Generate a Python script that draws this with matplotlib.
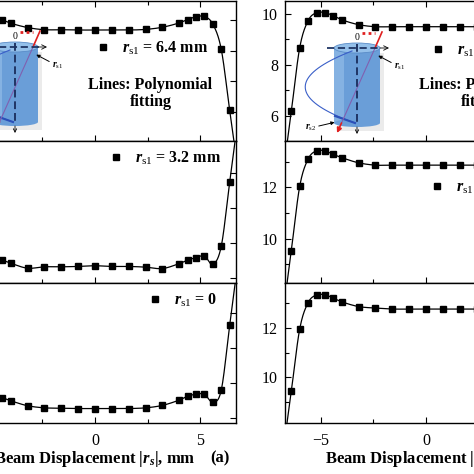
import numpy as np
import matplotlib
matplotlib.use('Agg')
import matplotlib.pyplot as plt
from matplotlib.patches import Rectangle, Ellipse
from matplotlib.ticker import MultipleLocator, NullFormatter

plt.rcParams['font.family'] = ['Liberation Serif', 'DejaVu Serif']
plt.rcParams['mathtext.fontset'] = 'custom'
plt.rcParams['mathtext.it'] = 'Liberation Serif:italic:bold'
plt.rcParams['mathtext.rm'] = 'Liberation Serif'
plt.rcParams['mathtext.bf'] = 'Liberation Serif:bold'

W, H = 474, 474

# ---- data: panel (a), symmetric beam displacement |r_s| (mm)
x_a = [-4.8, -4.4, -4.0, -3.2, -2.4, -1.6, -0.8, 0.0, 0.8, 1.6, 2.4, 3.2,
       4.0, 4.4, 4.8, 5.2, 5.6, 6.0, 6.4]
a_top = [9.10, 9.00, 8.89, 8.75, 8.68, 8.68, 8.67, 8.67, 8.67, 8.67, 8.69,
         8.76, 8.90, 9.01, 9.10, 9.11, 8.86, 8.04, 6.06]
a_mid = [1.60, 1.51, 1.42, 1.28, 1.32, 1.32, 1.33, 1.35, 1.33, 1.33, 1.31,
         1.27, 1.41, 1.51, 1.58, 1.63, 1.39, 1.91, 3.74]
a_bot = [1.66, 1.58, 1.49, 1.35, 1.29, 1.28, 1.27, 1.27, 1.27, 1.27, 1.29,
         1.36, 1.51, 1.62, 1.68, 1.68, 1.45, 1.80, 3.65]

# ---- data: panel (b)
x_b = [-6.4, -6.0, -5.6, -5.2, -4.8, -4.4, -4.0, -3.2, -2.4, -1.6, -0.8,
       0.0, 0.8, 1.6, 2.4]
b_top = [6.16, 8.67, 9.73, 10.04, 10.04, 9.92, 9.76, 9.57, 9.49, 9.49, 9.49,
         9.49, 9.49, 9.49, 9.49]
b_mid = [9.53, 12.04, 13.10, 13.42, 13.41, 13.28, 13.15, 12.95, 12.86, 12.86,
         12.86, 12.86, 12.86, 12.86, 12.86]
b_bot = [9.44, 11.95, 13.01, 13.32, 13.32, 13.19, 13.04, 12.85, 12.79, 12.75,
         12.75, 12.75, 12.75, 12.75, 12.75]

labels = [r'$r_{\rm s1}$ = 6.4 mm', r'$r_{\rm s1}$ = 3.2 mm', r'$r_{\rm s1}$ = 0']


def px_rect(x0, y0, x1, y1):
    return [x0 / W, 1 - y1 / H, (x1 - x0) / W, (y1 - y0) / H]


def fit_line(x, y, xlim, n=25):
    # smooth cubic curve through the points, continued straight to the axis edges
    x = np.asarray(x, float)
    y = np.asarray(y, float)
    m = np.empty_like(y)
    m[1:-1] = (y[2:] - y[:-2]) / (x[2:] - x[:-2])
    m[0] = (y[1] - y[0]) / (x[1] - x[0])
    m[-1] = (y[-1] - y[-2]) / (x[-1] - x[-2])
    xs, ys = [xlim[0]], [y[0] + m[0] * (xlim[0] - x[0])]
    for i in range(len(x) - 1):
        h = x[i + 1] - x[i]
        t = np.linspace(0, 1, n)
        h00 = 2 * t**3 - 3 * t**2 + 1
        h10 = t**3 - 2 * t**2 + t
        h01 = -2 * t**3 + 3 * t**2
        h11 = t**3 - t**2
        xs.extend(x[i] + t * h)
        ys.extend(h00 * y[i] + h10 * h * m[i] + h01 * y[i + 1] + h11 * h * m[i + 1])
    xs.append(xlim[1])
    ys.append(y[-1] + m[-1] * (xlim[1] - x[-1]))
    return np.array(xs), np.array(ys)


def draw_setup(ax):
    # sketch of the cylinder with beam paths (pixel offsets from top centre)
    ax.add_patch(Rectangle((-19, 5), 46, 78, color='#c8c8c8', alpha=0.35, lw=0))
    ax.add_patch(Rectangle((-23, 0), 46, 75, color='#6a9ed8', lw=0))
    ax.add_patch(Rectangle((-23, 0), 10, 75, color='#85b2e2', lw=0))
    ax.add_patch(Ellipse((0, 75), 46, 8, color='#6a9ed8', lw=0))
    ax.add_patch(Ellipse((0, 0), 46, 10, facecolor='#94c0ea', edgecolor='#5a8cc8', lw=0.6))
    t = np.linspace(0, 1, 40)
    bx = (1 - t)**2 * -5 + 2 * (1 - t) * t * -100 + t**2 * -2
    by = (1 - t)**2 * 3 + 2 * (1 - t) * t * 40 + t**2 * 75
    ax.plot(bx, by, color='#3a5fc8', lw=0.8)
    ax.plot([-22, -2], [68, 75], color='#2a4fb8', lw=1.5)
    ax.plot([18, -15.5], [0, 75], color='#8060b0', lw=0.8)
    ax.plot([25, 18], [-16, 0], color='#e02020', lw=1.2)
    ax.annotate('', xy=(-20, 85), xytext=(-15.5, 75),
                arrowprops=dict(arrowstyle='-|>', color='#e02020', lw=1.2,
                                mutation_scale=7, shrinkA=0, shrinkB=0))
    ax.plot([5, 18], [-15, -15], color='#e02020', lw=2, ls=(0, (1, 1.2)))
    ax.plot([-30, 24], [0, 0], color='#1f3564', lw=1.3, ls=(0, (4, 2)))
    ax.annotate('', xy=(32, 0), xytext=(23, 0),
                arrowprops=dict(arrowstyle='->', color='black', lw=0.6,
                                mutation_scale=8, shrinkA=0, shrinkB=0))
    ax.plot([0, 0], [-4, 76], color='#1f3564', lw=1.4, ls=(0, (4, 2)))
    ax.annotate('', xy=(0, 86), xytext=(0, 79),
                arrowprops=dict(arrowstyle='->', color='black', lw=0.6,
                                mutation_scale=6, shrinkA=0, shrinkB=0))
    ax.text(0, -6, '0', fontsize=7, ha='center', va='bottom')
    ax.annotate(r'$r_{\rm s1}$', xy=(20, 7), xytext=(37, 19), fontsize=7,
                va='center', arrowprops=dict(arrowstyle='-|>', color='black', lw=0.7,
                                             mutation_scale=5, shrinkA=0, shrinkB=1))
    ax.annotate(r'$r_{\rm s2}$', xy=(-21, 74), xytext=(-41, 80), fontsize=7,
                ha='right', va='center',
                arrowprops=dict(arrowstyle='-|>', color='black', lw=0.7,
                                mutation_scale=5, shrinkA=0, shrinkB=1))


fig = plt.figure(figsize=(W / 100, H / 100), dpi=100)

rows = [(1, 141), (141, 283), (283, 423)]
cols = [(-46, 236), (285, 567)]
xlim = (-6.7, 6.7)

panels = [
    (x_a, [a_top, a_mid, a_bot], [(5.065, 9.613), (0.857, 4.914), (0.857, 4.857)]),
    (x_b, [b_top, b_mid, b_bot], [(5.0, 10.5), (8.27, 13.8), (8.16, 13.8)]),
]
legend_pos = [[(0.510, 0.66), (0.556, 0.88), (0.694, 0.879)],
              [(0.524, 0.645), (0.520, 0.676), (0.75, 0.60)]]

for c, (xv, series, ylims) in enumerate(panels):
    for r, yv in enumerate(series):
        ax = fig.add_axes(px_rect(cols[c][0], rows[r][0], cols[c][1], rows[r][1]))
        lx, ly = fit_line(xv, yv, xlim)
        ax.plot(lx, ly, color='black', lw=0.9)
        ax.plot(xv, yv, 's', color='black', ms=5, label=labels[r])
        ax.set_xlim(*xlim)
        ax.set_ylim(*ylims[r])
        ax.xaxis.set_major_locator(MultipleLocator(5))
        ax.xaxis.set_minor_locator(MultipleLocator(2.5))
        if c == 0:
            ax.yaxis.set_major_locator(MultipleLocator(1))
        else:
            ax.yaxis.set_major_locator(MultipleLocator(2))
            ax.yaxis.set_minor_locator(MultipleLocator(1))
        ax.tick_params(which='both', direction='in', top=(r == 0), right=True,
                       labelleft=(c == 1), labelsize=11.5, width=0.8, pad=7)
        ax.tick_params(axis='y', pad=5)
        ax.tick_params(which='major', length=4)
        ax.tick_params(which='minor', length=3)
        for sp in ax.spines.values():
            sp.set_linewidth(1.0)
        if r < 2:
            ax.xaxis.set_major_formatter(NullFormatter())
        else:
            ax.set_xlabel(r'Beam Displacement |$r_{s}$|, mm', fontsize=12,
                          fontweight='bold', labelpad=0)
        ax.legend(loc='center left', bbox_to_anchor=legend_pos[c][r], frameon=False,
                  borderpad=0, borderaxespad=0, handlelength=0.65, handletextpad=0.85,
                  numpoints=1, prop={'weight': 'bold', 'size': 11.5})
        if r == 0:
            ax.text(0.697, 0.34, 'Lines: Polynomial\nfitting', transform=ax.transAxes,
                    ha='center', va='center', fontsize=11.5, fontweight='bold',
                    linespacing=1.1)

# inset sketches
for cx, cy in [(15, 47), (357, 48)]:
    ins = fig.add_axes(px_rect(cx - 65, cy - 30, cx + 55, cy + 100))
    ins.set_xlim(-65, 55)
    ins.set_ylim(100, -30)
    ins.axis('off')
    ins.patch.set_alpha(0)
    draw_setup(ins)

fig.text(220 / W, 1 - 458 / H, '(a)', ha='center', va='center',
         fontsize=12, fontweight='bold')

fig.savefig('out.png', dpi=100)
